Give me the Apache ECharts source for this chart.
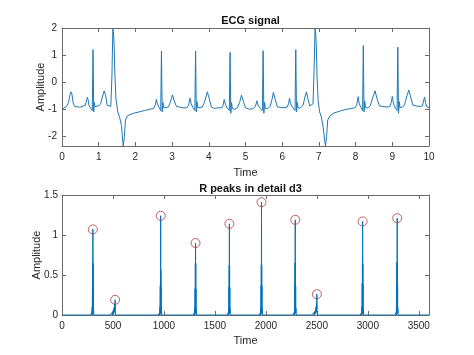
<!DOCTYPE html>
<html>
<head>
<meta charset="utf-8">
<script src="https://cdn.jsdelivr.net/npm/echarts@6/dist/echarts.min.js"></script>
<style>
html,body{margin:0;padding:0;background:#fff;}
#c{width:474px;height:355px;}
</style>
</head>
<body>
<div id="c"></div>
<script>
// ECG signal: [time (s), amplitude]
const ecgSignal = [
[0,-1.0],[0.05,-0.98],[0.12,-0.9],[0.18,-0.75],[0.22,-0.45],[0.245,-0.36],[0.27,-0.45],[0.31,-0.8],[0.36,-0.92],[0.42,-0.9],[0.48,-0.93],[0.55,-0.9],[0.6,-0.92],[0.64,-0.85],[0.67,-0.65],[0.69,-0.56],[0.71,-0.65],[0.74,-0.88],[0.79,-0.92],[0.825,-1.05],[0.845,1.2],[0.865,-1.1],[0.88,-0.75],[0.895,-0.9],[0.94,-0.92],[1.0,-0.88],[1.05,-0.8],[1.1,-0.55],[1.15,-0.32],[1.19,-0.5],[1.23,-0.85],[1.28,-0.92],[1.33,-0.9],[1.36,0.2],[1.385,1.96],[1.4,1.88],[1.42,1.4],[1.44,0.3],[1.47,-0.6],[1.52,-1.1],[1.57,-1.3],[1.62,-1.6],[1.65,-2.1],[1.67,-2.36],[1.7,-2.0],[1.73,-1.4],[1.78,-1.25],[1.85,-1.2],[1.95,-1.15],[2.1,-1.1],[2.25,-1.05],[2.4,-1.0],[2.5,-0.97],[2.54,-0.85],[2.57,-0.64],[2.6,-0.8],[2.65,-0.95],[2.69,-1.05],[2.71,1.15],[2.73,-1.1],[2.75,-0.75],[2.77,-0.95],[2.82,-0.97],[2.9,-0.92],[2.95,-0.75],[3.01,-0.47],[3.06,-0.7],[3.12,-0.9],[3.2,-0.92],[3.3,-0.95],[3.4,-0.95],[3.45,-0.85],[3.49,-0.59],[3.52,-0.8],[3.57,-0.95],[3.62,-1.05],[3.64,1.15],[3.66,-1.1],[3.68,-0.72],[3.7,-0.95],[3.75,-0.97],[3.82,-0.92],[3.88,-0.75],[3.96,-0.36],[4.01,-0.6],[4.07,-0.92],[4.15,-0.97],[4.25,-0.95],[4.35,-0.95],[4.39,-0.85],[4.42,-0.64],[4.45,-0.82],[4.5,-0.95],[4.56,-1.05],[4.58,1.1],[4.6,-1.15],[4.62,-0.75],[4.64,-0.98],[4.7,-1.0],[4.78,-0.95],[4.84,-0.75],[4.89,-0.48],[4.94,-0.7],[5.0,-0.95],[5.1,-1.0],[5.2,-0.98],[5.27,-0.9],[5.31,-0.69],[5.34,-0.85],[5.4,-0.97],[5.46,-1.05],[5.48,1.16],[5.5,-1.15],[5.52,-0.75],[5.54,-0.97],[5.6,-0.98],[5.67,-0.9],[5.72,-0.65],[5.76,-0.38],[5.81,-0.65],[5.87,-0.92],[5.95,-0.93],[6.05,-0.95],[6.14,-0.92],[6.17,-0.8],[6.2,-0.6],[6.23,-0.8],[6.29,-0.95],[6.35,-1.05],[6.37,1.2],[6.39,-1.1],[6.41,-0.75],[6.43,-0.95],[6.5,-0.95],[6.57,-0.85],[6.62,-0.55],[6.66,-0.36],[6.7,-0.6],[6.75,-0.88],[6.8,-0.92],[6.84,-0.8],[6.87,0.5],[6.895,1.97],[6.91,1.88],[6.93,1.3],[6.95,0.2],[6.98,-0.7],[7.02,-1.1],[7.07,-1.3],[7.12,-1.7],[7.16,-2.2],[7.18,-2.36],[7.21,-2.0],[7.24,-1.4],[7.3,-1.25],[7.4,-1.15],[7.55,-1.08],[7.7,-1.02],[7.85,-0.98],[7.98,-0.95],[8.03,-0.85],[8.07,-0.54],[8.1,-0.8],[8.15,-0.95],[8.19,-1.05],[8.21,1.35],[8.23,-1.1],[8.25,-0.7],[8.27,-0.95],[8.33,-0.95],[8.4,-0.88],[8.46,-0.6],[8.53,-0.32],[8.58,-0.6],[8.65,-0.88],[8.75,-0.9],[8.85,-0.92],[8.93,-0.9],[8.97,-0.75],[9.0,-0.53],[9.03,-0.78],[9.08,-0.95],[9.13,-1.05],[9.15,1.29],[9.17,-1.15],[9.19,-0.72],[9.21,-0.95],[9.27,-0.92],[9.33,-0.85],[9.4,-0.5],[9.45,-0.29],[9.5,-0.55],[9.56,-0.85],[9.65,-0.88],[9.75,-0.9],[9.82,-0.88],[9.85,-0.7],[9.88,-0.56],[9.91,-0.8],[9.95,-0.92],[10,-0.95]
];

// Detail d3 signal: [sample, amplitude]
const d3Signal = [
[0,0],[280,0],
[288,0.01],[292,0.03],[294,0],[296,0.1],[297,0.01],[299,0.33],[300,0.02],[301,0.65],[302,0.15],[303,1.07],[304,0.25],[305,0.64],[306,0.06],[307,0.32],[308,0.02],[310,0.08],[312,0],[318,0.02],[322,0],
[470,0],[480,0.01],[485,0],[490,0.03],[493,0],[497,0.04],[500,0.01],[503,0.06],[506,0.02],[509,0.08],[511,0.03],[513,0.1],[515,0.04],[517,0.13],[519,0.07],[521,0.19],[523,0.05],[525,0],
[945,0],[953,0.01],[957,0.03],[959,0],[961,0.1],[962,0.01],[964,0.36],[965,0.02],[966,0.57],[967,0.15],[968,1.24],[969,0.25],[970,0.56],[971,0.06],[972,0.35],[973,0.02],[975,0.08],[977,0],[983,0.02],[987,0],
[1287,0],[1295,0.01],[1299,0.03],[1301,0],[1303,0.1],[1304,0.01],[1306,0.33],[1307,0.02],[1308,0.65],[1309,0.15],[1310,0.90],[1311,0.25],[1312,0.64],[1313,0.06],[1314,0.32],[1315,0.02],[1317,0.08],[1319,0],[1325,0.02],[1329,0],
[1619,0],[1627,0.01],[1631,0.03],[1633,0],[1635,0.1],[1636,0.01],[1638,0.35],[1639,0.02],[1640,0.62],[1641,0.15],[1642,1.14],[1643,0.25],[1644,0.61],[1645,0.06],[1646,0.34],[1647,0.02],[1649,0.08],[1651,0],[1657,0.02],[1661,0],
[1934,0],[1942,0.01],[1946,0.03],[1948,0],[1950,0.1],[1951,0.01],[1953,0.37],[1954,0.02],[1955,0.63],[1956,0.15],[1957,1.41],[1958,0.25],[1959,0.62],[1960,0.06],[1961,0.36],[1962,0.02],[1964,0.08],[1966,0],[1972,0.02],[1976,0],
[2265,0],[2273,0.01],[2277,0.03],[2279,0],[2281,0.1],[2282,0.01],[2284,0.37],[2285,0.02],[2286,0.65],[2287,0.15],[2288,1.19],[2289,0.25],[2290,0.64],[2291,0.06],[2292,0.36],[2293,0.02],[2295,0.08],[2297,0],[2303,0.02],[2307,0],
[2450,0],[2460,0.01],[2465,0],[2470,0.03],[2473,0],[2477,0.04],[2480,0.01],[2483,0.05],[2486,0.02],[2489,0.08],[2491,0.03],[2493,0.11],[2495,0.04],[2497,0.15],[2498,0.07],[2500,0.26],[2502,0.05],[2504,0],
[2926,0],[2934,0.01],[2938,0.03],[2940,0],[2942,0.1],[2943,0.01],[2945,0.4],[2946,0.02],[2947,0.65],[2948,0.15],[2949,1.17],[2950,0.25],[2951,0.64],[2952,0.06],[2953,0.38],[2954,0.02],[2956,0.08],[2958,0],[2964,0.02],[2968,0],
[3265,0],[3273,0.01],[3277,0.03],[3279,0],[3281,0.1],[3282,0.01],[3284,0.37],[3285,0.02],[3286,0.66],[3287,0.15],[3288,1.21],[3289,0.25],[3290,0.65],[3291,0.06],[3292,0.36],[3293,0.02],[3295,0.08],[3297,0],[3303,0.02],[3307,0],
[3600,0]
];

const peakLocs = [303,521,968,1310,1642,1957,2288,2500,2949,3288];
const peakAmps = [1.07,0.19,1.24,0.90,1.14,1.41,1.19,0.26,1.17,1.21];

const topXTicks = [0,1,2,3,4,5,6,7,8,9,10];
const topYTicks = [-2,-1,0,1,2];
const botXTicks = [0,500,1000,1500,2000,2500,3000,3500];
const botYTicks = [0,0.5,1,1.5];

const FONT = '"Liberation Sans", Arial, Helvetica, sans-serif';
const TXT = '#262626';
const AX = '#6a6a6a';

function axisBase(gridIndex, position, min, max, ticks, opts) {
  return Object.assign({
    type: 'value', gridIndex, position, min, max,
    axisLine: { show: true, onZero: false, lineStyle: { color: AX, width: 1 } },
    axisTick: { show: true, inside: true, length: 4, customValues: ticks, lineStyle: { color: AX, width: 1 } },
    axisLabel: { show: false },
    splitLine: { show: false }
  }, opts || {});
}
function withLabels(ax, ticks, margin) {
  ax.axisLabel = { show: true, customValues: ticks, color: TXT, fontSize: 10, fontFamily: FONT, margin: margin,
    formatter: v => String(v) };
  return ax;
}
const nameStyle = { fontSize: 11, color: TXT, fontFamily: FONT };

const chart = echarts.init(document.getElementById('c'), null, { renderer: 'canvas' });
chart.setOption({
  animation: false,
  backgroundColor: '#ffffff',
  title: [
    { text: 'ECG signal', left: 245.5, top: 10, textAlign: 'center',
      textStyle: { fontSize: 11, fontWeight: 'bold', color: '#111', fontFamily: FONT } },
    { text: 'R peaks in detail d3', left: 245.5, top: 178, textAlign: 'center',
      textStyle: { fontSize: 11, fontWeight: 'bold', color: '#111', fontFamily: FONT } }
  ],
  grid: [
    { left: 62, right: 45, top: 28, height: 118 },
    { left: 62, right: 45, top: 195, height: 120 }
  ],
  xAxis: [
    withLabels(axisBase(0, 'bottom', 0, 10, topXTicks, {
      name: 'Time', nameLocation: 'middle', nameGap: 21, nameMoveOverlap: false, nameTextStyle: nameStyle }), topXTicks, 6),
    axisBase(0, 'top', 0, 10, topXTicks),
    withLabels(axisBase(1, 'bottom', 0, 3600, botXTicks, {
      name: 'Time', nameLocation: 'middle', nameGap: 20, nameMoveOverlap: false, nameTextStyle: nameStyle }), botXTicks, 6),
    axisBase(1, 'top', 0, 3600, botXTicks)
  ],
  yAxis: [
    withLabels(axisBase(0, 'left', -2.36, 2, topYTicks, {
      name: 'Amplitude', nameLocation: 'middle', nameGap: 16, nameMoveOverlap: false, nameTextStyle: nameStyle }), topYTicks, 5),
    axisBase(0, 'right', -2.36, 2, topYTicks),
    withLabels(axisBase(1, 'left', 0, 1.5, botYTicks, {
      name: 'Amplitude', nameLocation: 'middle', nameGap: 20, nameMoveOverlap: false, nameTextStyle: nameStyle }), botYTicks, 4),
    axisBase(1, 'right', 0, 1.5, botYTicks)
  ],
  series: [
    { type: 'line', xAxisIndex: 0, yAxisIndex: 0, data: ecgSignal, showSymbol: false, symbol: 'none',
      lineStyle: { color: '#1f77b4', width: 1 }, silent: true },
    { type: 'line', xAxisIndex: 2, yAxisIndex: 2, data: d3Signal, showSymbol: false, symbol: 'none',
      lineStyle: { color: '#0072BD', width: 1 }, silent: true },
    { type: 'scatter', xAxisIndex: 2, yAxisIndex: 2, symbol: 'circle', symbolSize: 9,
      data: peakLocs.map((x, i) => [x, peakAmps[i]]),
      itemStyle: { color: 'rgba(0,0,0,0)', borderColor: '#b03a3a', borderWidth: 1 }, silent: true, z: 5 }
  ]
});
</script>
</body>
</html>
